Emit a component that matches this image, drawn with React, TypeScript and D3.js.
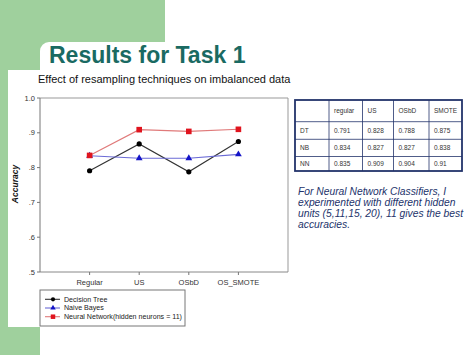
import * as d3 from 'd3';

const categories = ['Regular', 'US', 'OSbD', 'OS_SMOTE'];
const decisionTree = [0.791, 0.868, 0.788, 0.875];
const naiveBayes = [0.834, 0.827, 0.827, 0.838];
const neuralNet = [0.835, 0.909, 0.904, 0.91];
const yTicks = [0.5, 0.6, 0.7, 0.8, 0.9, 1.0];

const tableHeader = ['', 'regular', 'US', 'OSbD', 'SMOTE'];
const tableRows = [
  ['DT', '0.791', '0.828', '0.788', '0.875'],
  ['NB', '0.834', '0.827', '0.827', '0.838'],
  ['NN', '0.835', '0.909', '0.904', '0.91'],
];
const noteLines = [
  'For Neural Network Classifiers, I',
  'experimented with different hidden',
  'units (5,11,15, 20), 11 gives the best',
  'accuracies.',
];

const SERIES = [
  { name: 'Decision Tree', values: decisionTree, line: '#333', fill: '#000', marker: 'circle' },
  { name: 'Naive Bayes', values: naiveBayes, line: '#6b6bd6', fill: '#1414c8', marker: 'triangle' },
  { name: 'Neural Network(hidden neurons = 11)', values: neuralNet, line: '#e07a7a', fill: '#e0141e', marker: 'square' },
];

const GREEN = '#9fd09d';
const TEAL = '#1a6a62';
const NAVY = '#23336b';
const FONT = 'Liberation Sans, Arial, sans-serif';

function Marker({ type, x, y, fill, s = 1 }: { type: string; x: number; y: number; fill: string; s?: number }) {
  if (type === 'circle') return <circle cx={x} cy={y} r={2.6 * s} fill={fill} />;
  if (type === 'square') return <rect x={x - 2.8 * s} y={y - 2.8 * s} width={5.6 * s} height={5.6 * s} fill={fill} />;
  const sym = d3.symbol(d3.symbolTriangle, 20 * s * s)();
  return <path d={sym || ''} transform={`translate(${x},${y})`} fill={fill} />;
}

export default function App() {
  const plot = { left: 40, right: 288, top: 98, bottom: 272 };
  const x = d3.scalePoint<string>().domain(categories).range([plot.left, plot.right]).padding(1);
  const y = d3.scaleLinear().domain([0.5, 1.0]).range([plot.bottom, plot.top]);
  const fmt = (d: number) => (d === 1 ? '1.0' : d3.format('.1f')(d).replace(/^0/, ''));

  // table layout
  const colEdges = [295, 329, 362.5, 393.5, 429, 462];
  const rowEdges = [100, 121.7, 139.3, 156.5, 171];

  return (
    <svg width={474} height={355} style={{ position: 'absolute', left: 0, top: 0 }} fontFamily={FONT}>
      <rect width={474} height={355} fill="#fff" />
      {/* green decoration */}
      <rect x={0} y={0} width={165} height={70} fill={GREEN} />
      <rect x={0} y={0} width={8} height={355} fill={GREEN} />
      <rect x={0} y={327} width={40} height={28} fill={GREEN} />
      <rect x={40} y={42} width={200} height={60} rx={9} fill="#fff" />
      <rect x={8} y={70} width={40} height={257} fill="#fff" />

      <text x={49} y={63} fontSize={23} fontWeight="bold" fill={TEAL}>
        Results for Task 1
      </text>
      <text x={38} y={83} fontSize={11} fill="#111">
        Effect of resampling techniques on imbalanced data
      </text>

      {/* plot frame */}
      <line x1={plot.left} x2={plot.right} y1={plot.top} y2={plot.top} stroke="#999" />
      <line x1={plot.right} x2={plot.right} y1={plot.top} y2={plot.bottom} stroke="#999" />
      <line x1={plot.left} x2={plot.right} y1={plot.bottom} y2={plot.bottom} stroke="#888" />
      <line x1={plot.left} x2={plot.left} y1={plot.top} y2={plot.bottom} stroke="#777" />

      {yTicks.map((t) => (
        <g key={t}>
          <line x1={plot.left - 3} x2={plot.left} y1={y(t)} y2={y(t)} stroke="#777" />
          <text x={plot.left - 5} y={y(t)} dy="0.35em" textAnchor="end" fontSize={7.5} fill="#333">
            {fmt(t)}
          </text>
        </g>
      ))}
      {categories.map((c) => (
        <g key={c}>
          <line x1={x(c)} x2={x(c)} y1={plot.bottom} y2={plot.bottom + 3} stroke="#777" />
          <text x={x(c)} y={plot.bottom + 13} textAnchor="middle" fontSize={7.5} fill="#333">
            {c}
          </text>
        </g>
      ))}
      <text
        transform={`translate(18,${(plot.top + plot.bottom) / 2 - 1}) rotate(-90)`}
        textAnchor="middle"
        fontSize={8.5}
        fontWeight="bold"
        fontStyle="italic"
        fill="#111"
      >
        Accuracy
      </text>

      {SERIES.map((s) => {
        const line = d3
          .line<number>()
          .x((_d, i) => x(categories[i]) as number)
          .y((d) => y(d));
        return (
          <g key={s.name}>
            <path d={line(s.values) || ''} fill="none" stroke={s.line} strokeWidth={1.1} />
            {s.values.map((v, i) => (
              <Marker key={i} type={s.marker} x={x(categories[i]) as number} y={y(v)} fill={s.fill} />
            ))}
          </g>
        );
      })}

      {/* legend */}
      <rect x={40} y={290} width={145} height={36} fill="#fff" stroke="#777" />
      {SERIES.map((s, i) => {
        const ly = 299.3 + i * 8.7;
        return (
          <g key={s.name}>
            <line x1={45} x2={60} y1={ly} y2={ly} stroke={s.line} strokeWidth={1.1} />
            <Marker type={s.marker} x={53} y={ly} fill={s.fill} s={0.8} />
            <text x={64} y={ly} dy="0.35em" fontSize={7.1} fill="#222">
              {s.name}
            </text>
          </g>
        );
      })}

      {/* table */}
      {[tableHeader, ...tableRows].map((row, r) =>
        row.map((cell, c) => (
          <text
            key={`${r}-${c}`}
            x={colEdges[c] + 5}
            y={(rowEdges[r] + rowEdges[r + 1]) / 2}
            dy="0.35em"
            fontSize={6.5}
            fill="#333"
          >
            {cell}
          </text>
        )),
      )}
      {colEdges.slice(1, -1).map((cx) => (
        <line key={cx} x1={cx} x2={cx} y1={rowEdges[0]} y2={rowEdges[rowEdges.length - 1]} stroke={NAVY} strokeWidth={0.8} />
      ))}
      {rowEdges.slice(1, -1).map((ry) => (
        <line key={ry} x1={colEdges[0]} x2={colEdges[colEdges.length - 1]} y1={ry} y2={ry} stroke={NAVY} strokeWidth={0.8} />
      ))}
      <rect
        x={colEdges[0]}
        y={rowEdges[0]}
        width={colEdges[colEdges.length - 1] - colEdges[0]}
        height={rowEdges[rowEdges.length - 1] - rowEdges[0]}
        fill="none"
        stroke={NAVY}
        strokeWidth={1.8}
      />

      {noteLines.map((l, i) => (
        <text key={i} x={298} y={195 + i * 11} fontSize={10.3} fontStyle="italic" fill={NAVY}>
          {l}
        </text>
      ))}
    </svg>
  );
}
